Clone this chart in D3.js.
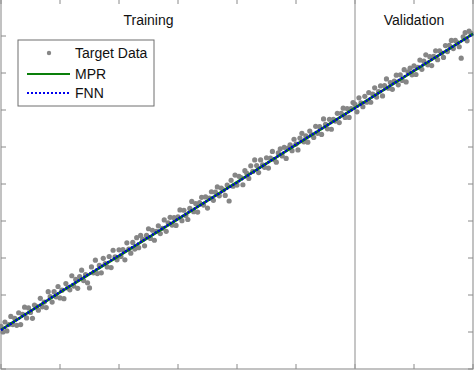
<!DOCTYPE html>
<html>
<head>
<meta charset="utf-8">
<script src="https://cdn.jsdelivr.net/npm/d3@7"></script>
<style>
  body { margin: 0; background: #fff; }
  text { font-family: "Liberation Sans", Arial, sans-serif; }
</style>
</head>
<body>
<div id="chart"></div>
<script>
// measured target values, one per sample index
var targetData = [
  1.15, 1.00, 1.27, 1.03, 1.20, 1.42, 1.20, 1.37, 1.18, 1.52,
  1.20, 1.48, 1.67, 1.38, 1.65, 1.53, 1.37, 1.73, 1.69, 1.59,
  1.91, 1.68, 1.81, 1.66, 2.09, 1.96, 1.81, 2.09, 1.95, 2.23,
  1.92, 2.13, 1.90, 2.31, 2.19, 2.14, 2.52, 2.24, 2.42, 2.18,
  2.50, 2.67, 2.39, 2.55, 2.33, 2.19, 2.76, 2.60, 2.94, 2.58,
  2.80, 2.60, 2.99, 2.85, 2.76, 3.04, 2.74, 3.21, 3.03, 2.95,
  3.22, 3.04, 3.23, 2.95, 3.41, 3.24, 3.13, 3.42, 3.24, 3.55,
  3.28, 3.61, 3.51, 3.33, 3.61, 3.79, 3.53, 3.75, 3.48, 3.72,
  3.87, 3.66, 3.80, 4.03, 3.72, 3.95, 4.10, 3.89, 4.09, 3.88,
  4.11, 4.30, 4.01, 4.29, 4.15, 4.04, 4.34, 4.53, 4.25, 4.47,
  4.24, 4.50, 4.64, 4.43, 4.65, 4.35, 4.62, 4.79, 4.56, 4.78,
  4.92, 4.68, 4.89, 4.84, 4.69, 4.97, 4.54, 5.10, 4.94, 5.24,
  4.97, 5.21, 5.17, 4.98, 5.36, 5.29, 5.15, 5.49, 5.34, 5.65,
  5.50, 5.31, 5.65, 5.52, 5.45, 5.71, 5.43, 5.70, 5.88, 5.66,
  5.59, 5.84, 5.95, 5.76, 5.99, 5.69, 5.97, 6.06, 5.90, 6.21,
  6.08, 5.92, 6.24, 6.37, 6.14, 6.30, 6.13, 6.43, 6.33, 6.26,
  6.56, 6.37, 6.55, 6.34, 6.76, 6.61, 6.49, 6.75, 6.48, 6.75,
  6.70, 6.91, 6.66, 6.91, 7.05, 6.80, 7.04, 6.80, 7.04, 7.20,
  7.15, 6.95, 7.33, 7.19, 7.09, 7.37, 7.21, 7.47, 7.21, 7.43,
  7.60, 7.35, 7.50, 7.65, 7.38, 7.66, 7.84, 7.59, 7.74, 7.56,
  7.78, 7.94, 7.68, 7.95, 7.80, 8.09, 7.76, 8.03, 8.13, 7.95,
  8.19, 7.96, 8.15, 8.35, 8.10, 8.32, 8.49, 8.22, 8.44, 8.20,
  8.45, 8.60, 8.36, 8.60, 8.54, 8.42, 8.74, 8.58, 8.75, 8.88,
  8.66, 8.88, 8.82, 8.71, 8.40, 8.98, 9.09, 8.87, 9.13, 9.07
];
var modelX = [0, 30, 60, 90, 120, 150, 180, 210, 240];
var mprValues = [1.06, 2.07, 3.06, 4.05, 5.05, 6.06, 7.06, 8.06, 9.06];
var fnnValues = [1.05, 2.08, 3.07, 4.06, 5.04, 6.07, 7.05, 8.07, 9.05];
var xTicks = [0, 30, 60, 90, 120, 150, 180, 210, 240];
var yTicks = [0, 1, 2, 3, 4, 5, 6, 7, 8, 9, 10];
var splitAt = 180;
var legendLabels = ["Target Data", "MPR", "FNN"];

var width = 474,
    height = 371;

var svg = d3.select("#chart")
    .append("svg")
    .attr("width", width)
    .attr("height", height);

var x = d3.scaleLinear().domain([0, 240]).range([1, 473]);
var y = d3.scaleLinear().domain([0, 10]).range([369, -1]);

// box
svg.append("rect")
    .attr("x", x(0)).attr("y", y(10))
    .attr("width", x(240) - x(0)).attr("height", y(0) - y(10))
    .attr("fill", "none")
    .attr("stroke", "#9a9a9a")
    .attr("stroke-width", 1.2);

// inward ticks on all four sides
var tickColor = "#8a8a8a";
svg.selectAll(".xt-b").data(xTicks).enter().append("line")
    .attr("x1", function(d) { return x(d); }).attr("x2", function(d) { return x(d); })
    .attr("y1", y(0)).attr("y2", y(0) - 5)
    .attr("stroke", tickColor);
svg.selectAll(".xt-t").data(xTicks).enter().append("line")
    .attr("x1", function(d) { return x(d); }).attr("x2", function(d) { return x(d); })
    .attr("y1", y(10)).attr("y2", y(10) + 5)
    .attr("stroke", tickColor);
svg.selectAll(".yt-l").data(yTicks).enter().append("line")
    .attr("x1", x(0)).attr("x2", x(0) + 5)
    .attr("y1", function(d) { return y(d); }).attr("y2", function(d) { return y(d); })
    .attr("stroke", tickColor);
svg.selectAll(".yt-r").data(yTicks).enter().append("line")
    .attr("x1", x(240)).attr("x2", x(240) - 5)
    .attr("y1", function(d) { return y(d); }).attr("y2", function(d) { return y(d); })
    .attr("stroke", tickColor);

// training / validation divider
svg.append("line")
    .attr("x1", x(splitAt)).attr("x2", x(splitAt))
    .attr("y1", y(0)).attr("y2", y(10))
    .attr("stroke", "#a0a0a0")
    .attr("stroke-width", 1.2);

svg.append("text")
    .attr("x", x(75)).attr("y", 25)
    .attr("text-anchor", "middle")
    .attr("font-size", 14)
    .attr("fill", "#111")
    .text("Training");
svg.append("text")
    .attr("x", x(210)).attr("y", 25)
    .attr("text-anchor", "middle")
    .attr("font-size", 14)
    .attr("fill", "#111")
    .text("Validation");

// target scatter
svg.selectAll(".pt")
    .data(targetData)
    .enter().append("circle")
    .attr("class", "pt")
    .attr("cx", function(d, i) { return x(i); })
    .attr("cy", function(d) { return y(d); })
    .attr("r", 2.6)
    .attr("fill", "#868686");

var line = d3.line()
    .x(function(d, i) { return x(modelX[i]); })
    .y(function(d) { return y(d); });

svg.append("path")
    .datum(mprValues)
    .attr("d", line)
    .attr("fill", "none")
    .attr("stroke", "#0a7f0a")
    .attr("stroke-width", 2.6);

svg.append("path")
    .datum(fnnValues)
    .attr("d", line)
    .attr("fill", "none")
    .attr("stroke", "#0000dd")
    .attr("stroke-width", 2.4)
    .attr("stroke-dasharray", "2,1.5");

// legend
var legend = svg.append("g").attr("transform", "translate(18,40)");
legend.append("rect")
    .attr("width", 136).attr("height", 66)
    .attr("fill", "#fff")
    .attr("stroke", "#6f6f6f")
    .attr("stroke-width", 1);

var rows = [13, 34, 53];
legend.append("circle")
    .attr("cx", 31).attr("cy", rows[0])
    .attr("r", 2.2).attr("fill", "#868686");
legend.append("line")
    .attr("x1", 9).attr("x2", 52)
    .attr("y1", rows[1]).attr("y2", rows[1])
    .attr("stroke", "#0a7f0a").attr("stroke-width", 2.2);
legend.append("line")
    .attr("x1", 9).attr("x2", 52)
    .attr("y1", rows[2]).attr("y2", rows[2])
    .attr("stroke", "#0000ee").attr("stroke-width", 2)
    .attr("stroke-dasharray", "2,2");

legend.selectAll(".lt")
    .data(legendLabels)
    .enter().append("text")
    .attr("x", 57)
    .attr("y", function(d, i) { return rows[i] + 5; })
    .attr("font-size", 14)
    .attr("fill", "#111")
    .text(function(d) { return d; });
</script>
</body>
</html>
